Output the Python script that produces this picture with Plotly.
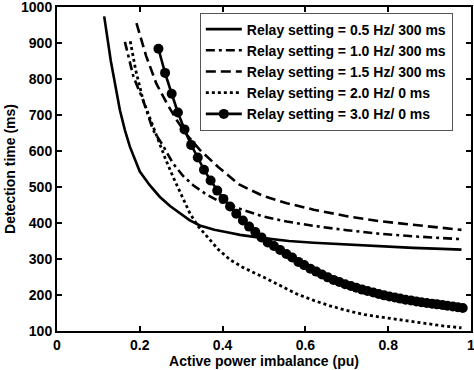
import plotly.graph_objects as go

# --- data ---
names = [
    "Relay setting = 0.5 Hz/ 300 ms",
    "Relay setting = 1.0 Hz/ 300 ms",
    "Relay setting = 1.5 Hz/ 300 ms",
    "Relay setting = 2.0 Hz/ 0 ms",
    "Relay setting = 3.0 Hz/ 0 ms",
]

x_05 = [0.114, 0.130, 0.152, 0.164, 0.176, 0.200, 0.224, 0.248, 0.273, 0.297, 0.320, 0.345,
        0.380, 0.417, 0.442, 0.498, 0.560, 0.620, 0.700, 0.740, 0.800, 0.860, 0.930, 0.977]
y_05 = [974, 850, 713, 658, 612, 543, 505, 473, 447, 427, 408, 393,
        381, 373, 367, 358, 350, 345, 340, 337, 334, 331, 328, 326]

x_10 = [0.164, 0.185, 0.208, 0.232, 0.256, 0.280, 0.305, 0.329, 0.360, 0.393, 0.450,
        0.498, 0.555, 0.620, 0.700, 0.780, 0.860, 0.930, 0.977]
y_10 = [903, 805, 741, 658, 615, 566, 530, 505, 480, 459, 436,
        418, 404, 392, 380, 370, 363, 358, 355]

x_15 = [0.192, 0.215, 0.240, 0.265, 0.289, 0.315, 0.345, 0.390, 0.440, 0.498, 0.555,
        0.620, 0.700, 0.780, 0.860, 0.930, 0.977]
y_15 = [955, 865, 787, 733, 686, 643, 603, 555, 507, 475, 455,
        437, 419, 405, 395, 387, 381]

x_20 = [0.177, 0.190, 0.208, 0.225, 0.244, 0.262, 0.280, 0.300, 0.321, 0.340, 0.361, 0.390,
        0.418, 0.450, 0.498, 0.540, 0.579, 0.620, 0.659, 0.700, 0.740, 0.780, 0.820,
        0.860, 0.900, 0.940, 0.977]
y_20 = [905, 825, 741, 688, 630, 578, 529, 479, 427, 392, 363, 326,
        298, 276, 250, 225, 203, 185, 170, 157, 146, 139, 132,
        125, 118, 113, 109]

x_30 = [0.245, 0.261, 0.277, 0.292, 0.308, 0.324, 0.340, 0.355, 0.371, 0.387, 0.402,
        0.418, 0.433, 0.449, 0.464, 0.479, 0.494, 0.509, 0.524, 0.539, 0.554, 0.568,
        0.583, 0.597, 0.612, 0.626, 0.640, 0.654, 0.668, 0.682, 0.696, 0.710, 0.723,
        0.737, 0.750, 0.764, 0.777, 0.790, 0.803, 0.816, 0.829, 0.842, 0.855, 0.868,
        0.880, 0.893, 0.906, 0.918, 0.931, 0.943, 0.956, 0.968, 0.980]
y_30 = [884, 817, 759, 707, 660, 617, 582, 548, 518, 490, 467,
        446, 426, 407, 390, 375, 360, 346, 336, 325, 314, 304,
        292, 283, 273, 265, 257, 249, 242, 236, 230, 225, 220,
        215, 211, 207, 203, 199, 196, 193, 190, 187, 185, 182,
        180, 178, 176, 174, 172, 170, 168, 166, 164]

x_ticks = [0, 0.2, 0.4, 0.6, 0.8, 1]
y_ticks = [100, 200, 300, 400, 500, 600, 700, 800, 900, 1000]

FONT = "Liberation Sans, Arial, Helvetica, sans-serif"

fig = go.Figure()
fig.add_trace(go.Scatter(x=x_05, y=y_05, mode="lines", name=names[0],
                         line=dict(color="black", width=2.6)))
fig.add_trace(go.Scatter(x=x_10, y=y_10, mode="lines", name=names[1],
                         line=dict(color="black", width=2.6, dash="9px,4px,3px,4px")))
fig.add_trace(go.Scatter(x=x_15, y=y_15, mode="lines", name=names[2],
                         line=dict(color="black", width=2.6, dash="10px,5px")))
fig.add_trace(go.Scatter(x=x_20, y=y_20, mode="lines", name=names[3],
                         line=dict(color="black", width=2.8, dash="3px,3px")))
fig.add_trace(go.Scatter(x=x_30, y=y_30, mode="lines+markers", name=names[4],
                         line=dict(color="black", width=2.6),
                         marker=dict(color="black", size=10, symbol="circle")))

axis_common = dict(
    showline=True, linecolor="black", linewidth=2, mirror="ticks",
    ticks="inside", ticklen=5, tickwidth=1.5, tickcolor="black",
    showgrid=False, zeroline=False, ticklabeloverflow="allow",
    tickfont=dict(family=FONT, size=14, color="black", weight="bold"),
    title_font=dict(family=FONT, size=14, color="black", weight="bold"),
)

fig.update_xaxes(range=[0, 1], tickvals=x_ticks, ticktext=[str(v) for v in x_ticks],
                 title_text="Active power imbalance (pu)", title_standoff=2, **axis_common)
fig.update_yaxes(range=[100, 1000], tickvals=y_ticks, ticktext=[str(v) for v in y_ticks],
                 title_text="Detection time (ms)", title_standoff=2, **axis_common)

fig.update_layout(
    width=474, height=370,
    margin=dict(l=57, r=3, t=7, b=39, autoexpand=False),
    paper_bgcolor="white", plot_bgcolor="white",
    font=dict(family=FONT, size=14, color="black", weight="bold"),
    legend=dict(x=0.345, y=0.983, xanchor="left", yanchor="top",
                bgcolor="white", bordercolor="#555555", borderwidth=1,
                font=dict(family=FONT, size=14, color="black", weight="bold"),
                tracegroupgap=0, itemwidth=36),
    showlegend=True,
)

fig.write_html("out.html",
               config={"displayModeBar": False},
               post_script="document.body.style.margin='0';document.body.style.padding='0';"
                           "document.body.style.overflow='hidden';")
